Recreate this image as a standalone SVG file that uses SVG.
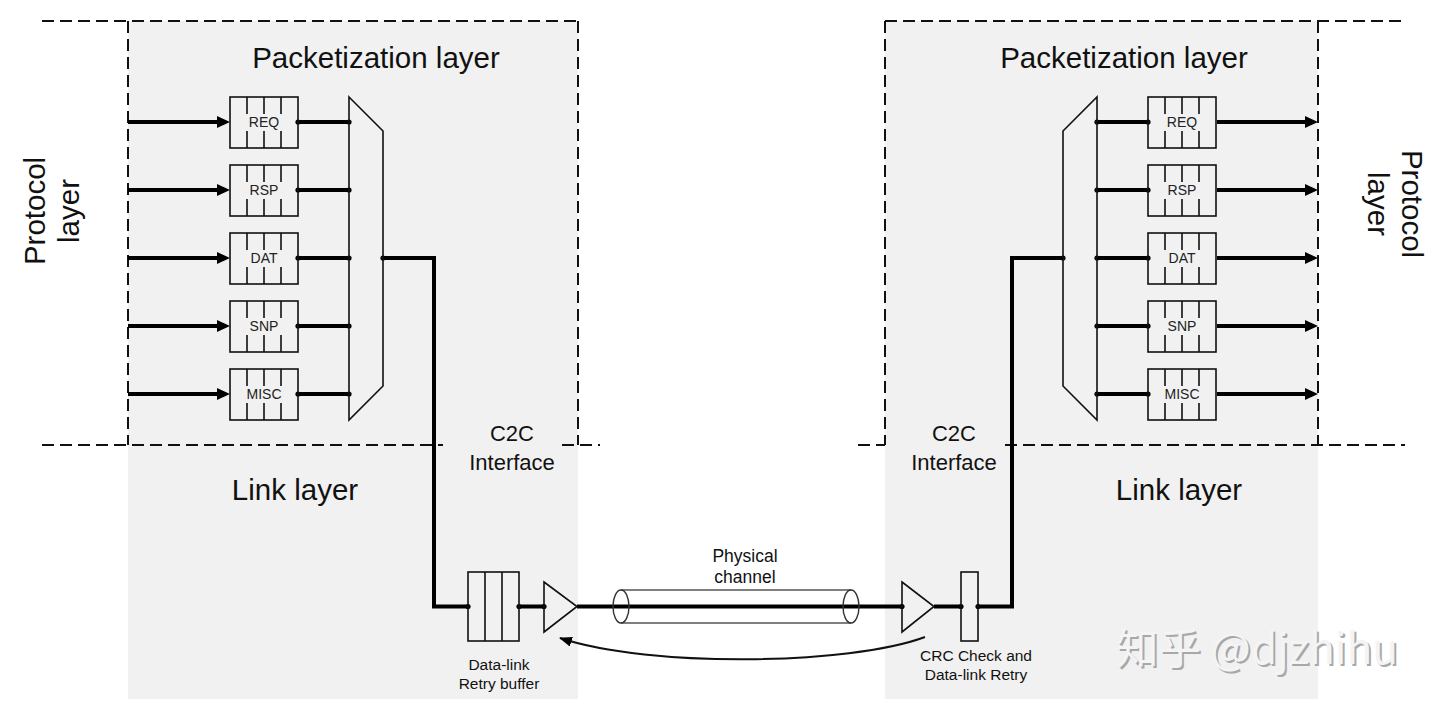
<svg xmlns="http://www.w3.org/2000/svg" xmlns:xlink="http://www.w3.org/1999/xlink" width="1440" height="716" viewBox="0 0 1440 716">
<style>
.bg{fill:#f1f1f1;stroke:none}
.dash{fill:none;stroke:#111;stroke-width:2;stroke-dasharray:12 6}
.wire{fill:none;stroke:#000;stroke-width:4}
.thin{fill:none;stroke:#111;stroke-width:1.6}
.dot{fill:#000}
.t{font-family:"Liberation Sans",Arial,sans-serif;fill:#111}
.big{font-size:29.5px}
.mid{font-size:22px}
.sm{font-size:15.5px}
.ql{font-family:"Liberation Sans",Arial,sans-serif;font-size:14px;fill:#222;text-anchor:middle}
.c{text-anchor:middle}
</style>
<defs>
<path id="ah" d="M-13,-6 L0,0 L-13,6 z" fill="#000"/>
<circle id="dt" r="2.6" fill="#000"/>
<g id="qbox">
<rect x="0" y="0" width="68" height="51" fill="none" stroke="#111" stroke-width="1.6"/>
<path d="M17,0V17M34,0V17M51,0V17M17,34V51M34,34V51M51,34V51" stroke="#111" stroke-width="1.6" fill="none"/>
</g>
<marker id="carrow" markerUnits="userSpaceOnUse" markerWidth="16" markerHeight="12" refX="12" refY="5" orient="auto">
<path d="M0,0 L13,5 L0,10 z" fill="#000"/>
</marker>
</defs>

<g id="backgrounds">
<rect class="bg" x="128" y="21" width="450" height="678"/>
<rect class="bg" x="885" y="21" width="433" height="678"/>
</g>

<g id="boundaries">
<path class="dash" d="M42,21H578M128,21V445M578,21V445M42,445H443M562,445H600"/>
<path class="dash" d="M885,21H1405M885,21V445M1318,21V445M858,445H885M1005,445H1405"/>
</g>

<g id="labels">
<text class="t big c" x="376" y="68">Packetization layer</text>
<text class="t big c" x="1124" y="68">Packetization layer</text>
<text class="t big c" x="295" y="500">Link layer</text>
<text class="t big c" x="1179" y="500">Link layer</text>
<text class="t mid c" x="512" y="441">C2C</text>
<text class="t mid c" x="512" y="470">Interface</text>
<text class="t mid c" x="954" y="441">C2C</text>
<text class="t mid c" x="954" y="470">Interface</text>
<text class="t big c" transform="translate(45,211) rotate(-90)"><tspan x="0" y="0">Protocol</tspan><tspan x="0" y="34">layer</tspan></text>
<text class="t big c" transform="translate(1402,204) rotate(90)"><tspan x="0" y="0">Protocol</tspan><tspan x="0" y="34">layer</tspan></text>
</g>

<g id="connectors">
<path class="wire" d="M128,122H218M128,190H218M128,258H218M128,326H218M128,394H218"/>
<use xlink:href="#ah" x="230" y="122"/><use xlink:href="#ah" x="230" y="190"/><use xlink:href="#ah" x="230" y="258"/><use xlink:href="#ah" x="230" y="326"/><use xlink:href="#ah" x="230" y="394"/>
<path class="wire" d="M298,122H349M298,190H349M298,258H349M298,326H349M298,394H349"/>
<use xlink:href="#dt" x="298" y="122"/><use xlink:href="#dt" x="298" y="190"/><use xlink:href="#dt" x="298" y="258"/><use xlink:href="#dt" x="298" y="326"/><use xlink:href="#dt" x="298" y="394"/>
<use xlink:href="#dt" x="349" y="122"/><use xlink:href="#dt" x="349" y="190"/><use xlink:href="#dt" x="349" y="258"/><use xlink:href="#dt" x="349" y="326"/><use xlink:href="#dt" x="349" y="394"/>
<path class="wire" d="M383,258H434V606.5H468M519,606.5H544M577,606.5H902M934,606.5H961M978,606.5H1012V258H1063"/>
<use xlink:href="#dt" x="383" y="258"/><use xlink:href="#dt" x="468" y="606.5"/><use xlink:href="#dt" x="519" y="606.5"/><use xlink:href="#dt" x="544" y="606.5"/><use xlink:href="#dt" x="902" y="606.5"/><use xlink:href="#dt" x="961" y="606.5"/><use xlink:href="#dt" x="978" y="606.5"/><use xlink:href="#dt" x="1063" y="258"/>
<path class="wire" d="M1097,122H1148M1097,190H1148M1097,258H1148M1097,326H1148M1097,394H1148"/>
<use xlink:href="#dt" x="1097" y="122"/><use xlink:href="#dt" x="1097" y="190"/><use xlink:href="#dt" x="1097" y="258"/><use xlink:href="#dt" x="1097" y="326"/><use xlink:href="#dt" x="1097" y="394"/>
<use xlink:href="#dt" x="1148" y="122"/><use xlink:href="#dt" x="1148" y="190"/><use xlink:href="#dt" x="1148" y="258"/><use xlink:href="#dt" x="1148" y="326"/><use xlink:href="#dt" x="1148" y="394"/>
<path class="wire" d="M1217,122H1306M1217,190H1306M1217,258H1306M1217,326H1306M1217,394H1306"/>
<use xlink:href="#ah" x="1318" y="122"/><use xlink:href="#ah" x="1318" y="190"/><use xlink:href="#ah" x="1318" y="258"/><use xlink:href="#ah" x="1318" y="326"/><use xlink:href="#ah" x="1318" y="394"/>
<path fill="none" stroke="#111" stroke-width="2" d="M925,637 C850,665 650,668 560,638" marker-end="url(#carrow)"/>
</g>

<g id="left-queues">
<g id="q-req-l"><use xlink:href="#qbox" x="230" y="97"/><text class="ql" x="264" y="127">REQ</text></g>
<g id="q-rsp-l"><use xlink:href="#qbox" x="230" y="165"/><text class="ql" x="264" y="195">RSP</text></g>
<g id="q-dat-l"><use xlink:href="#qbox" x="230" y="233"/><text class="ql" x="264" y="263">DAT</text></g>
<g id="q-snp-l"><use xlink:href="#qbox" x="230" y="301"/><text class="ql" x="264" y="331">SNP</text></g>
<g id="q-misc-l"><use xlink:href="#qbox" x="230" y="369"/><text class="ql" x="264" y="399">MISC</text></g>
</g>

<g id="mux-left"><polygon class="thin" points="349,97 383,131 383,386 349,420"/></g>

<g id="right-queues">
<g id="q-req-r"><use xlink:href="#qbox" x="1148" y="97"/><text class="ql" x="1182" y="127">REQ</text></g>
<g id="q-rsp-r"><use xlink:href="#qbox" x="1148" y="165"/><text class="ql" x="1182" y="195">RSP</text></g>
<g id="q-dat-r"><use xlink:href="#qbox" x="1148" y="233"/><text class="ql" x="1182" y="263">DAT</text></g>
<g id="q-snp-r"><use xlink:href="#qbox" x="1148" y="301"/><text class="ql" x="1182" y="331">SNP</text></g>
<g id="q-misc-r"><use xlink:href="#qbox" x="1148" y="369"/><text class="ql" x="1182" y="399">MISC</text></g>
</g>

<g id="mux-right"><polygon class="thin" points="1097,97 1097,420 1063,386 1063,131"/></g>

<g id="retry-buffer">
<rect class="thin" x="468" y="572" width="51" height="69"/>
<path class="thin" d="M485,572V641M502,572V641"/>
<text class="t sm c" x="499" y="670">Data-link</text>
<text class="t sm c" x="499" y="689">Retry buffer</text>
</g>

<g id="tx-driver"><polygon class="thin" points="544,582 577,606.5 544,632"/></g>

<g id="physical-channel">
<path fill="none" stroke="#555" stroke-width="1.4" d="M621,590H851M621,623H851"/>
<ellipse cx="621" cy="606.5" rx="8" ry="16.5" fill="none" stroke="#333" stroke-width="1.4"/>
<ellipse cx="851" cy="606.5" rx="8" ry="16.5" fill="none" stroke="#333" stroke-width="1.4"/>
<text class="t c" style="font-size:17.5px" x="745" y="562">Physical</text>
<text class="t c" style="font-size:17.5px" x="745" y="583">channel</text>
</g>

<g id="rx-receiver"><polygon class="thin" points="902,582 934,606.5 902,632"/></g>

<g id="crc-check">
<rect class="thin" x="961" y="572" width="17" height="69"/>
<text class="t sm c" x="976" y="661">CRC Check and</text>
<text class="t sm c" x="976" y="680">Data-link Retry</text>
</g>

<g id="watermark" style="font-family:'Noto Sans CJK SC','Noto Sans',sans-serif;font-size:42.5px">
<text x="1118" y="666" fill="#a8a8a8">知乎 @djzhihu</text>
<text x="1116" y="664" fill="#f4f4f4">知乎 @djzhihu</text>
</g>
</svg>
